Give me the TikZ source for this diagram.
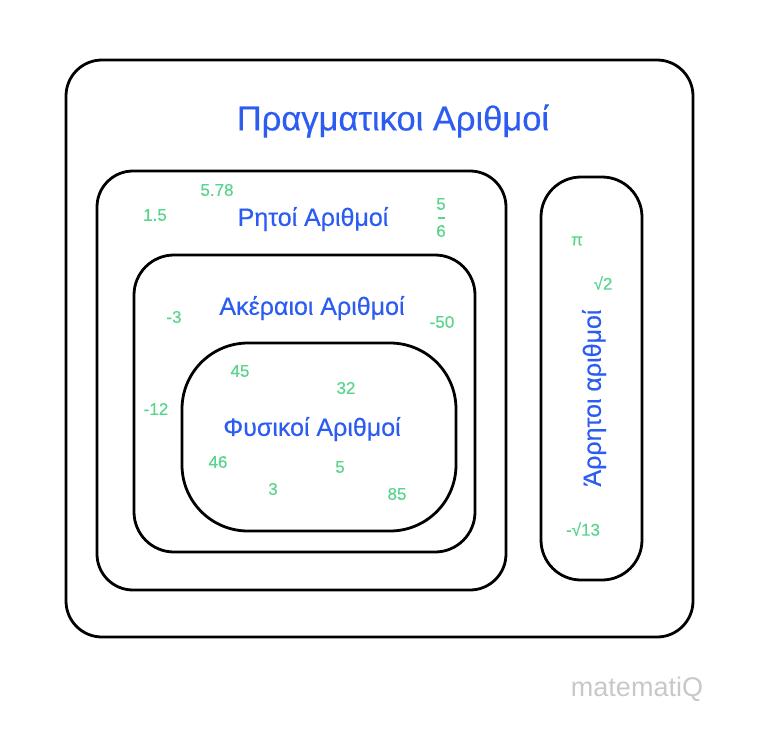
\documentclass[tikz,border=0pt]{standalone}
\usepackage{fontspec}
\setmainfont{Liberation Sans}
\newfontfamily\heavysans[FakeBold=0.4]{Liberation Sans}
\definecolor{setblue}{RGB}{44,92,240}
\definecolor{numgreen}{RGB}{88,212,140}
\definecolor{markgray}{RGB}{200,200,200}
\begin{document}
\begin{tikzpicture}[x=1pt,y=-1pt,
  setbox/.style={draw=black,line width=2.8pt,rectangle,inner sep=0pt},
  setname/.style={text=setblue,font=\heavysans\fontsize{25}{29}\selectfont,inner sep=0pt},
  num/.style={text=numgreen,font=\heavysans\fontsize{17}{20}\selectfont,inner sep=0pt}]
\useasboundingbox (0,0) rectangle (768,737);
% sets
\node[setbox,rounded corners=36,minimum width=627pt,minimum height=577pt] (real) at (379.5,348.5) {};
\node[setbox,rounded corners=36,minimum width=409pt,minimum height=419pt] (rat) at (301.5,380.5) {};
\node[setbox,rounded corners=40,minimum width=341pt,minimum height=297pt] (int) at (304.5,403.5) {};
\node[setbox,rounded corners=66,minimum width=274pt,minimum height=188pt] (nat) at (319,437) {};
\node[setbox,rounded corners=40,minimum width=101pt,minimum height=403pt] (irr) at (591.5,378.5) {};
% set names
\node[setname,font=\heavysans\fontsize{34.5}{40}\selectfont] (realname) at (393,121) {Πραγματικοι Αριθμοί};
\node[setname] (ratname) at (313,219) {Ρητοί Αριθμοί};
\node[setname] (intname) at (312,308) {Ακέραιοι Αριθμοί};
\node[setname] (natname) at (312,429) {Φυσικοί Αριθμοί};
\node[setname,rotate=90] (irrname) at (594,398) {Άρρητοι αριθμοί};
% numbers
\node[num] (n578) at (217,190) {5.78};
\node[num] (n15) at (155,215) {1.5};
\node[num] (n5a) at (441,204) {5};
\node[fill=numgreen,minimum width=7pt,minimum height=1.3pt,inner sep=0pt] (bar) at (441,218) {};
\node[num] (n6) at (441,231) {6};
\node[num] (nm3) at (174,317) {-3};
\node[num] (nm50) at (442,322) {-50};
\node[num] (nm12) at (156,409) {-12};
\node[num] (n45) at (240,371) {45};
\node[num] (n32) at (346,388) {32};
\node[num] (n46) at (218,462) {46};
\node[num] (n3) at (273,489) {3};
\node[num] (n5) at (340,467) {5};
\node[num] (n85) at (397,494) {85};
\node[num] (npi) at (577,241) {π};
\node[num] (nsq2) at (603,283) {√2};
\node[num] (nsq13) at (583,529) {-√13};
% watermark
\node[text=markgray,font=\fontsize{27}{32}\selectfont,inner sep=0pt] (mark) at (637,689) {matematiQ};
\end{tikzpicture}
\end{document}
